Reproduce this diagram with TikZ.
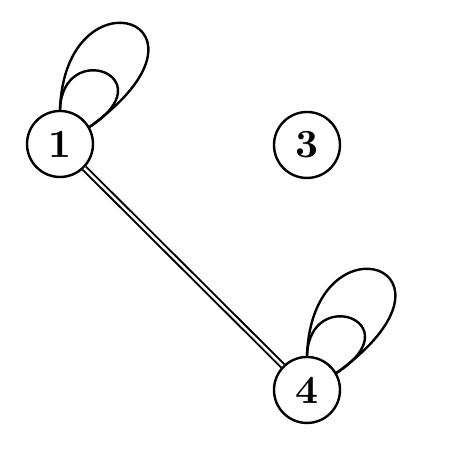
\documentclass[tikz,border=0pt]{standalone}
\begin{document}
\begin{tikzpicture}[x=0.25pt,y=0.25pt,
  vtx/.style={circle,draw,line width=0.6pt,inner sep=0pt,minimum size=16.5pt,font=\bfseries},
  lp/.style={line width=0.6pt}]
\useasboundingbox (0,0) rectangle (474,467);
\node[vtx] (n1) at (60,323) {1};
\node[vtx] (n3) at (307,322) {3};
\node[vtx] (n4) at (307,77) {4};
\draw[lp] (n1.90) .. controls +(88:72) and +(33:92) .. (n1.30);
\draw[lp] (n1.90) .. controls +(88:144) and +(36:180) .. (n1.30);
\draw[lp] (n4.90) .. controls +(88:72) and +(33:92) .. (n4.30);
\draw[lp] (n4.90) .. controls +(88:144) and +(36:180) .. (n4.30);
\draw[line width=0.5pt,double,double distance=0.6pt] (n1) -- (n4);
\end{tikzpicture}
\end{document}
